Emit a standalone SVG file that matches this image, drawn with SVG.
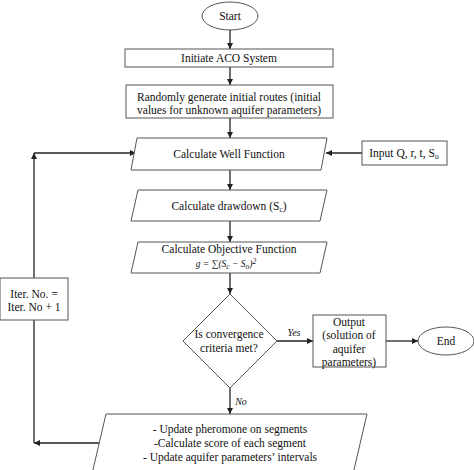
<svg xmlns="http://www.w3.org/2000/svg" width="474" height="470" viewBox="0 0 474 470">
<style>
.n{fill:#fff;stroke:#555;stroke-width:1}
.c{fill:none;stroke:#222;stroke-width:1.3}
text{font-family:"Liberation Serif","Times New Roman",serif;font-size:11.5px;fill:#111;text-anchor:middle}
.s{font-size:7.5px}
.i{font-style:italic;font-size:10px}
</style>
<defs>
<marker id="a" viewBox="0 0 10 10" refX="10" refY="5" markerWidth="6" markerHeight="6" orient="auto" markerUnits="userSpaceOnUse">
<path d="M0,0 L10,5 L0,10 z" fill="#222"/>
</marker>
</defs>
<rect width="474" height="470" fill="#fff"/>
<g id="connectors">
<line class="c" x1="230" y1="29" x2="230" y2="49" marker-end="url(#a)"/>
<line class="c" x1="230" y1="67" x2="230" y2="85" marker-end="url(#a)"/>
<line class="c" x1="230" y1="118" x2="230" y2="138" marker-end="url(#a)"/>
<line class="c" x1="230" y1="170" x2="230" y2="190" marker-end="url(#a)"/>
<line class="c" x1="230" y1="221" x2="230" y2="242" marker-end="url(#a)"/>
<line class="c" x1="230" y1="273" x2="230" y2="294" marker-end="url(#a)"/>
<line class="c" x1="362" y1="153" x2="326" y2="153" marker-end="url(#a)"/>
<line class="c" x1="277" y1="341" x2="313" y2="341" marker-end="url(#a)"/>
<line class="c" x1="386" y1="341" x2="418" y2="341" marker-end="url(#a)"/>
<line class="c" x1="230" y1="388" x2="230" y2="414" marker-end="url(#a)"/>
<line class="c" x1="100" y1="443" x2="34" y2="443" marker-end="url(#a)"/>
<line class="c" x1="34" y1="443" x2="34" y2="320"/>
<line class="c" x1="34" y1="278" x2="34" y2="153" marker-end="url(#a)"/>
<line class="c" x1="34" y1="153" x2="136" y2="153" marker-end="url(#a)"/>
<text class="i" x="294" y="336">Yes</text>
<text class="i" x="241" y="405">No</text>
</g>
<g id="start">
<ellipse class="n" cx="230" cy="16" rx="28" ry="14"/>
<text x="230" y="20">Start</text>
</g>
<g id="init">
<rect class="n" x="125" y="49" width="208" height="18"/>
<text x="229" y="62">Initiate ACO System</text>
</g>
<g id="random">
<rect class="n" x="126" y="85" width="207" height="33"/>
<text x="229" y="101">Randomly generate initial routes (initial</text>
<text x="229" y="114">values for unknown aquifer parameters)</text>
</g>
<g id="well">
<polygon class="n" points="137,138 327,138 321,170 131,170"/>
<text x="229" y="158">Calculate Well Function</text>
</g>
<g id="input">
<rect class="n" x="362" y="141" width="85" height="24"/>
<text x="404" y="157">Input Q, r, t, S<tspan class="s" dy="2">o</tspan></text>
</g>
<g id="drawdown">
<polygon class="n" points="138,190 327,190 320,221 131,221"/>
<text x="229" y="210">Calculate drawdown (S<tspan class="s" dy="2">c</tspan><tspan dy="-2">)</tspan></text>
</g>
<g id="objective">
<polygon class="n" points="138,242 327,242 320,273 131,273"/>
<text x="229" y="253">Calculate Objective Function</text>
<text x="226" y="267" style="font-size:9.5px;font-style:italic">g = ∑(S<tspan class="s" dy="2">c</tspan><tspan dy="-2"> − S</tspan><tspan class="s" dy="2">o</tspan><tspan dy="-2">)</tspan><tspan class="s" dy="-3">2</tspan></text>
</g>
<g id="decision">
<polygon class="n" points="230,294 277,341 230,388 183,341"/>
<text x="229" y="338">Is convergence</text>
<text x="229" y="352">criteria met?</text>
</g>
<g id="output">
<rect class="n" x="313" y="315" width="73" height="52"/>
<text x="349" y="326">Output</text>
<text x="349" y="339">(solution of</text>
<text x="349" y="353">aquifer</text>
<text x="349" y="366">parameters)</text>
</g>
<g id="end">
<ellipse class="n" cx="446" cy="341" rx="28" ry="14"/>
<text x="446" y="345">End</text>
</g>
<g id="iter">
<rect class="n" x="0" y="278" width="68" height="42"/>
<text x="34" y="298">Iter. No. =</text>
<text x="34" y="311">Iter. No + 1</text>
</g>
<g id="update">
<polygon class="n" points="106,414 367,414 353,474 92,474"/>
<text x="230" y="433">- Update pheromone on segments</text>
<text x="230" y="447">-Calculate score of each segment</text>
<text x="230" y="461">- Update aquifer parameters’ intervals</text>
</g>
</svg>
